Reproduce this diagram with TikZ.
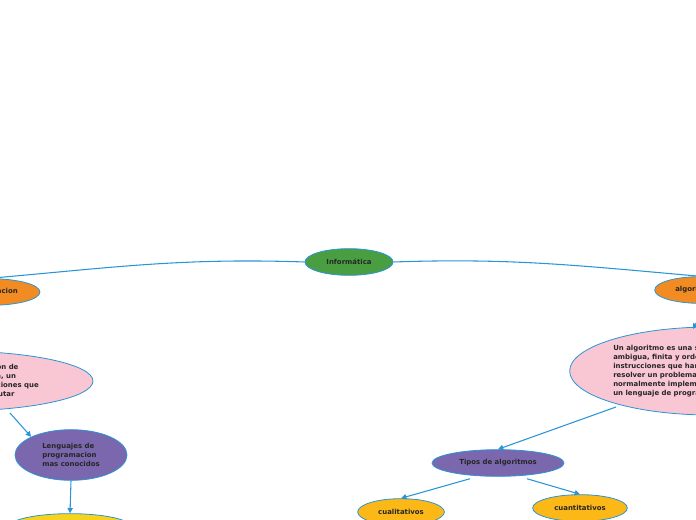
\documentclass[tikz,border=0pt]{standalone}
\usepackage{fontspec}
\setmainfont{DejaVu Sans}
\usetikzlibrary{shapes.geometric,arrows.meta}
\definecolor{edge}{HTML}{2A95D6}
\definecolor{grn}{HTML}{4A9E42}
\definecolor{org}{HTML}{F28C22}
\definecolor{pnk}{HTML}{F9C6D3}
\definecolor{prp}{HTML}{7B67AE}
\definecolor{ylw}{HTML}{F8D31E}
\definecolor{gld}{HTML}{FCB816}
\tikzset{
 el/.style={ellipse,draw=edge,line width=0.6pt,inner sep=0pt,font=\bfseries\fontsize{5.2}{6.6}\selectfont,text=black!85},
 txt/.style={font=\bfseries\fontsize{5.2}{6.8}\selectfont,align=left,text=black!85,inner sep=0pt},
 conn/.style={draw=edge,line width=0.8pt},
 arr/.style={conn,-{Triangle[length=4pt,width=4pt]}}
}
\begin{document}
\begin{tikzpicture}[x=0.75pt,y=-0.75pt]
\useasboundingbox (0,0) rectangle (696,520);
\clip (0,0) rectangle (696,520);
\node[el,fill=grn,minimum width=66pt,minimum height=20pt] (inf) at (349,262) {Informática};
\node[el,fill=org,minimum width=75pt,minimum height=20pt] (prog) at (-10,292) {};
\node[txt,anchor=east] at (18,292) {Programacion};
\node[el,fill=pnk,minimum width=210pt,minimum height=45pt] (pdef) at (-47,381) {};
\node[txt,anchor=east] at (39,381) {La programación es la creación de\\un programa de computadora, un\\conjunto concreto de instrucciones que\\una computadora puede ejecutar};
\node[el,fill=prp,minimum width=84pt,minimum height=38pt,align=left] (leng) at (71,455) {Lenguajes de\\programacion\\mas conocidos};
\node[el,fill=ylw,minimum width=92pt,minimum height=20pt] (yl) at (70,527) {};
\node[el,fill=org,minimum width=68pt,minimum height=20pt] (alg) at (700,290) {};
\node[txt,anchor=west] at (675,290) {algoritmo};
\node[el,fill=pnk,minimum width=212pt,minimum height=66pt] (adef) at (711,371) {};
\node[txt,anchor=west] at (613,371) {Un algoritmo es una serie no\\ambigua, finita y ordenada de\\instrucciones que han de seguirse para\\resolver un problema,\\normalmente implementado en\\un lenguaje de programación.};
\node[el,fill=prp,minimum width=99pt,minimum height=20pt] (tipos) at (498,463) {Tipos de algoritmos};
\node[el,fill=gld,minimum width=65pt,minimum height=20pt] (cual) at (401,512) {cualitativos};
\node[el,fill=gld,minimum width=71pt,minimum height=20pt] (cuan) at (580,508) {cuantitativos};
\draw[conn] (inf.west) to[out=178,in=5] (prog.north);
\draw[conn] (inf.east) to[out=2,in=175] (alg.north);
\draw[arr] (10,413) -- (leng.north west);
\draw[arr] (leng.south) -- (yl.north);
\draw[arr] (alg.south west) ++(40,2) -- (693,329);
\draw[arr] (adef) ++(-95,36) -- (tipos.north);
\draw[arr] (tipos.south) ++(-28,2) -- (cual.north);
\draw[arr] (tipos.south) ++(29,2) -- (cuan.north);
\end{tikzpicture}
\end{document}
